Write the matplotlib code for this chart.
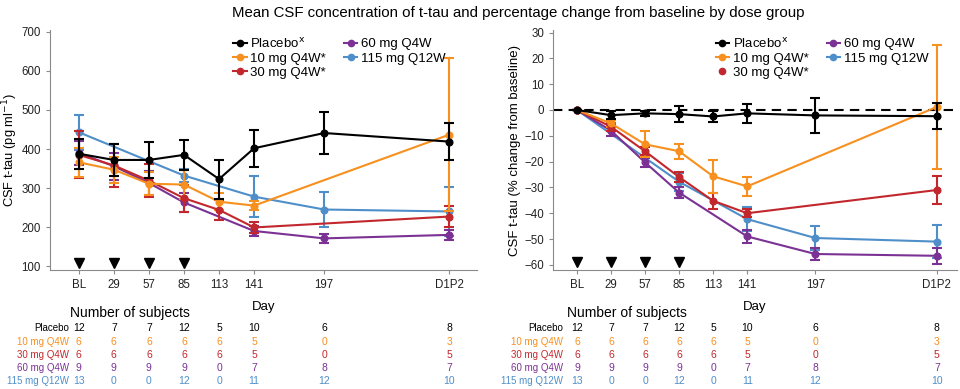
import numpy as np
import matplotlib
matplotlib.use("Agg")
import matplotlib.pyplot as plt
import matplotlib.transforms as mtransforms
from matplotlib.lines import Line2D

plt.rcParams['font.family'] = ['Liberation Sans', 'DejaVu Sans']

nan = np.nan
days = [1, 29, 57, 85, 113, 141, 197, 297]
day_labels = ['BL', '29', '57', '85', '113', '141', '197', 'D1P2']
dose_days = [1, 29, 57, 85]

groups = ['Placebo', '10 mg Q4W', '30 mg Q4W', '60 mg Q4W', '115 mg Q12W']
legend_labels = [r'Placebo$^{\mathrm{x}}$', '10 mg Q4W*', '30 mg Q4W*', '60 mg Q4W', '115 mg Q12W']
colors = ['#000000', '#f7901e', '#c1272d', '#7b3294', '#4f8fc9']

# Left: mean CSF t-tau (pg/ml)
tau_placebo = [388, 372, 372, 385, 323, 402, 441, 419]
tau_placebo_err = [38, 42, 47, 38, 50, 48, 55, 47]
tau_10 = [366, 347, 311, 309, 265, 255, nan, 437]
tau_10_err = [37, 33, 30, 38, 22, 12, nan, 197]
tau_30 = [385, 358, 319, 274, 244, 199, nan, 227]
tau_30_err = [60, 55, 42, 35, 25, 13, nan, 27]
tau_60 = [390, 356, 313, 263, nan, 190, 171, 180]
tau_60_err = [30, 35, 30, 25, nan, 13, 12, 12]
tau_115 = [443, nan, nan, 332, nan, 278, 245, 240]
tau_115_err = [45, nan, nan, 17, nan, 53, 46, 62]

# Right: % change from baseline
pct_placebo = [0, -2.0, -1.3, -1.6, -2.5, -1.3, -2.1, -2.4]
pct_placebo_err = [0, 1.5, 1.0, 3.2, 2.0, 3.6, 6.8, 5.0]
pct_10 = [0, -5.2, -13.3, -16.0, -25.7, -29.6, nan, 1.2]
pct_10_err = [0, 1.5, 5.0, 3.0, 6.3, 3.6, nan, 24]
pct_30 = [0, -6.5, -16.0, -26.0, -35.2, -40.0, nan, -31.0]
pct_30_err = [0, 1.5, 1.5, 2.0, 3.0, 1.5, nan, 5.5]
pct_60 = [0, -8.0, -20.3, -32.0, nan, -49.0, -55.8, -56.5]
pct_60_err = [0, 2.0, 1.8, 2.0, nan, 2.5, 2.2, 3.0]
pct_115 = [0, nan, nan, -27.8, nan, -42.3, -49.6, -51.0]
pct_115_err = [0, nan, nan, 3.5, nan, 4.6, 4.6, 6.5]

n_placebo = [12, 7, 7, 12, 5, 10, 6, 8]
n_10 = [6, 6, 6, 6, 6, 5, 0, 3]
n_30 = [6, 6, 6, 6, 6, 5, 0, 5]
n_60 = [9, 9, 9, 9, 0, 7, 8, 7]
n_115 = [13, 0, 0, 12, 0, 11, 12, 10]

tau_means = [tau_placebo, tau_10, tau_30, tau_60, tau_115]
tau_errs = [tau_placebo_err, tau_10_err, tau_30_err, tau_60_err, tau_115_err]
pct_means = [pct_placebo, pct_10, pct_30, pct_60, pct_115]
pct_errs = [pct_placebo_err, pct_10_err, pct_30_err, pct_60_err, pct_115_err]
n_rows = [n_placebo, n_10, n_30, n_60, n_115]

fig = plt.figure(figsize=(9.6, 3.89), dpi=100)
axL = fig.add_axes([50/960, 1-270/389, 427/960, 240/389])
axR = fig.add_axes([553/960, 1-270/389, 404/960, 240/389])

spine_c = '#8a8a8a'
draw_order = [4, 3, 2, 1, 0]

def draw(ax, means, errs, ylim, yticks, tri_y, xlim):
    for i in draw_order:
        x = np.array(days, float)
        m = np.array(means[i], float)
        e = np.array(errs[i], float)
        ok = ~np.isnan(m)
        ax.errorbar(x[ok], m[ok], yerr=e[ok], color=colors[i], lw=1.5,
                    marker='o', ms=4.8, capsize=3.5, capthick=1.5, elinewidth=1.5,
                    zorder=3 + (4 - i) * 0.1)
    ax.plot(dose_days, [tri_y] * len(dose_days), 'v', color='black', ms=7, zorder=5, clip_on=False)
    ax.set_xlim(*xlim)
    ax.set_ylim(*ylim)
    ax.set_yticks(yticks)
    ax.set_xticks(days)
    ax.set_xticklabels(day_labels)
    for s in ['top', 'right']:
        ax.spines[s].set_visible(False)
    for s in ['left', 'bottom']:
        ax.spines[s].set_color(spine_c)
        ax.spines[s].set_linewidth(0.8)
    ax.tick_params(axis='both', colors=spine_c, labelcolor='#222222', labelsize=8.3, length=3, width=0.8)
    ax.set_xlabel('Day', fontsize=9.5, labelpad=7)

draw(axL, tau_means, tau_errs, (90, 705), [100, 200, 300, 400, 500, 600, 700], 108, (-22, 319))
axL.set_ylabel('CSF t-tau (pg ml$^{-1}$)', fontsize=9.3, labelpad=1)

axR.axhline(0, color='black', lw=1.5, ls=(0, (4.5, 3)), zorder=2.5)
draw(axR, pct_means, pct_errs, (-62, 31), list(range(-60, 31, 10)), -59, (-18.7, 313.5))
axR.set_ylabel('CSF t-tau (% change from baseline)', fontsize=9.5, labelpad=2)
axR.set_yticklabels(['\u221260', '\u221250', '\u221240', '\u221230', '\u221220', '\u221210', '0', '10', '20', '30'])

def make_handles(marker_only_30=False):
    hs = []
    for i in range(5):
        if marker_only_30 and i == 2:
            hs.append(Line2D([], [], color=colors[i], marker='o', ms=4.5, lw=0))
        else:
            hs.append(Line2D([], [], color=colors[i], marker='o', ms=4.5, lw=1.5))
    return hs

for ax, mo, anchor in [(axL, False, (0.417, 0.995)), (axR, True, (0.39, 0.995))]:
    ax.legend(make_handles(mo), legend_labels, ncol=2, loc='upper left', bbox_to_anchor=anchor,
              frameon=False, fontsize=9.5, handlelength=1.0, handletextpad=0.3,
              labelspacing=0.15, columnspacing=1.35, borderaxespad=0)

# Title
fig.text(0.54, 0.985, 'Mean CSF concentration of t-tau and percentage change from baseline by dose group',
         ha='center', va='top', fontsize=10.8, family=['Liberation Sans Narrow', 'Liberation Sans', 'DejaVu Sans'])

# Subject tables
row_y = [328, 342, 355, 368, 381]
for ax, label_x, head_x in [(axL, 69, 70), (axR, 563, 567)]:
    trans = mtransforms.blended_transform_factory(ax.transData, fig.transFigure)
    fig.text(head_x/960, 1-313/389, 'Number of subjects', ha='left', va='center', fontsize=10)
    for r in range(5):
        yf = 1 - row_y[r]/389
        fig.text(label_x/960, yf, groups[r], ha='right', va='center', fontsize=7, color=colors[r])
        for d, n in zip(days, n_rows[r]):
            ax.text(d, yf, str(n), transform=trans, ha='center', va='center', fontsize=7.5, color=colors[r])

fig.savefig('out.png', dpi=100)
